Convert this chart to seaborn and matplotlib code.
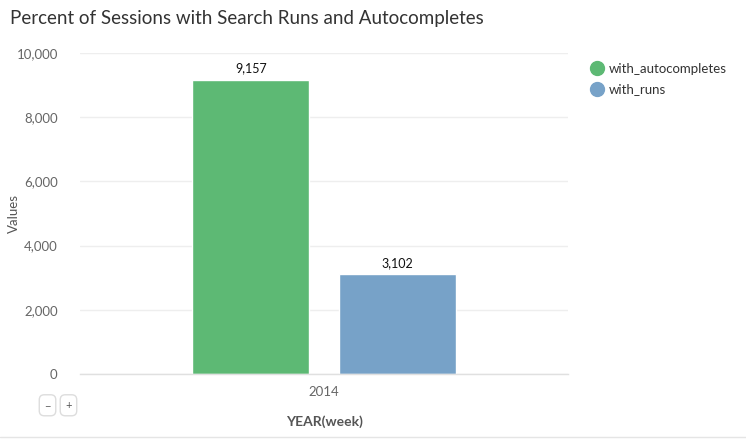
import matplotlib
matplotlib.use("Agg")
import matplotlib.pyplot as plt
import seaborn as sns
import pandas as pd
from matplotlib.ticker import FuncFormatter, FixedLocator
from matplotlib.lines import Line2D

categories = ["2014"]
series_names = ["with_autocompletes", "with_runs"]
values_autocompletes = [9157]
values_runs = [3102]
colors = ["#5db974", "#77a2c8"]
y_ticks = [0, 2000, 4000, 6000, 8000, 10000]

rows = []
for i, c in enumerate(categories):
    rows.append({"week": c, "series": series_names[0], "value": values_autocompletes[i]})
    rows.append({"week": c, "series": series_names[1], "value": values_runs[i]})
df = pd.DataFrame(rows)

sns.set_theme(style="white")
plt.rcParams['font.family'] = ['Lato', 'DejaVu Sans']

fig = plt.figure(figsize=(7.46, 4.41), dpi=100)
ax = fig.add_axes([0.1072, 0.152, 0.6542, 0.7278])

sns.barplot(data=df, x="week", y="value", hue="series", palette=colors,
            width=0.6, gap=0.2, ax=ax, legend=False, saturation=1)

ax.set_xlim(-0.5, 0.5)
ax.set_ylim(0, 10000)
ax.yaxis.set_major_locator(FixedLocator(y_ticks))
ax.yaxis.set_major_formatter(FuncFormatter(lambda v, p: f"{int(v):,}"))
ax.grid(axis="y", color="#eeeeee", linewidth=1)
ax.set_axisbelow(True)
for s in ["top", "right", "left"]:
    ax.spines[s].set_visible(False)
ax.spines["bottom"].set_color("#e0e0e0")
ax.spines["bottom"].set_linewidth(1)
ax.tick_params(axis="both", length=0, colors="#666666", labelsize=9.5)
ax.tick_params(axis="y", pad=16)
ax.tick_params(axis="x", pad=9)

for cont in ax.containers:
    ax.bar_label(cont, labels=[f"{int(v):,}" for v in cont.datavalues],
                 padding=4, fontsize=9, color="#111111")

ax.set_ylabel("Values", color="#555555", fontsize=9.5)
ax.yaxis.set_label_coords(-0.123, 0.5)
ax.set_xlabel("YEAR(week)", color="#555555", fontsize=10, fontweight="bold", labelpad=12)

fig.text(0.0134, 0.958, "Percent of Sessions with Search Runs and Autocompletes",
         fontsize=13.5, color="#333333", va="center", ha="left")

handles = [Line2D([0], [0], marker="o", linestyle="", markersize=10,
                  markerfacecolor=c, markeredgecolor=c) for c in colors]
fig.legend(handles, series_names, loc="upper left", bbox_to_anchor=(0.776, 0.885),
           frameon=False, fontsize=9.5, labelcolor="#333333", handletextpad=0.4,
           labelspacing=0.65, handlelength=1.0)

# zoom buttons
for x, t in [(0.0637, "−"), (0.0918, "+")]:
    fig.text(x, 0.081, t, fontsize=8, color="#555555", ha="center", va="center",
             bbox=dict(boxstyle="round,pad=0.45", fc="white", ec="#dddddd", lw=1))

fig.add_artist(Line2D([0, 1], [0.01, 0.01], color="#e5e5e5", lw=1, transform=fig.transFigure))

fig.savefig("out.png", dpi=100)
